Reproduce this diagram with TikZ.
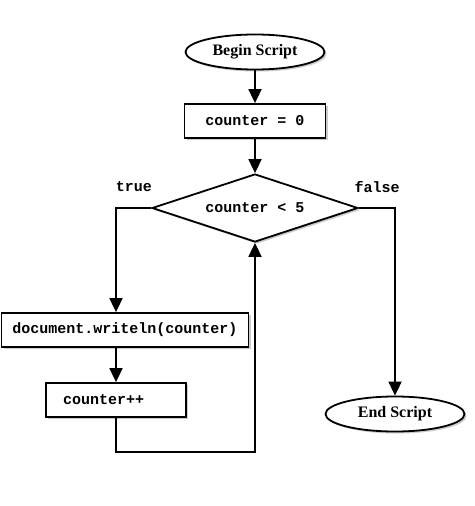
\documentclass[tikz,border=0pt]{standalone}
\usepackage{fontspec}
\setmainfont{Liberation Serif}
\setmonofont{Liberation Mono}
\usetikzlibrary{arrows.meta,positioning,calc,shapes.geometric,shadows}
\definecolor{shade}{HTML}{8C8C8C}
\tikzset{term/.style={ellipse,draw,fill=white,line width=1.8pt,minimum width=139pt,minimum height=35pt,inner sep=0pt,font=\fontsize{16}{18}\selectfont\bfseries},
  stepbox/.style={rectangle,draw,fill=white,line width=1.8pt,minimum height=34pt,inner sep=0pt,font=\fontsize{15}{18}\selectfont\ttfamily\bfseries},
  test/.style={diamond,aspect=3,draw,fill=white,line width=1.8pt,minimum width=206pt,minimum height=68pt,inner sep=0pt,font=\fontsize{15}{18}\selectfont\ttfamily\bfseries},
  tag/.style={font=\fontsize{15}{18}\selectfont\ttfamily\bfseries},
  flow/.style={-{Triangle[length=14pt,width=13pt]},line width=1.8pt},
  shadowed/.style={drop shadow={shadow xshift=2pt,shadow yshift=-2pt,fill=shade,opacity=.45}}}

\begin{document}
\begin{tikzpicture}[x=1pt,y=-1pt]
\fill[white] (0,0) rectangle (474,506);
\useasboundingbox (0,0) rectangle (474,506);
\node[term,shadowed] (begin) at (255,52) {Begin Script};
\node[stepbox,shadowed,minimum width=141pt] (init) at (255,121) {counter = 0};
\node[test,shadowed] (cond) at (255,208) {counter < 5};
\node[stepbox,shadowed,minimum width=247pt] (body) at (125,330) {document.writeln(counter)};
\node[stepbox,shadowed,text width=106pt,inner xsep=17pt,align=left] (incr) at (116,400) {counter++};
\node[term,shadowed] (finish) at (395,414) {End Script};
\node[tag] (yes) at (134,187) {true};
\node[tag] (no) at (377,187) {false};
\draw[flow] (begin) -- (init);
\draw[flow] (init) -- (cond);
\draw[flow] (cond.west) -| (incr.north |- body.north);
\draw[flow] (incr.north |- body.south) -- (incr);
\draw[flow] (incr.south) -- ++(0,34) -| (cond.south);
\draw[flow] (cond.east) -| (finish);
\end{tikzpicture}
\end{document}
